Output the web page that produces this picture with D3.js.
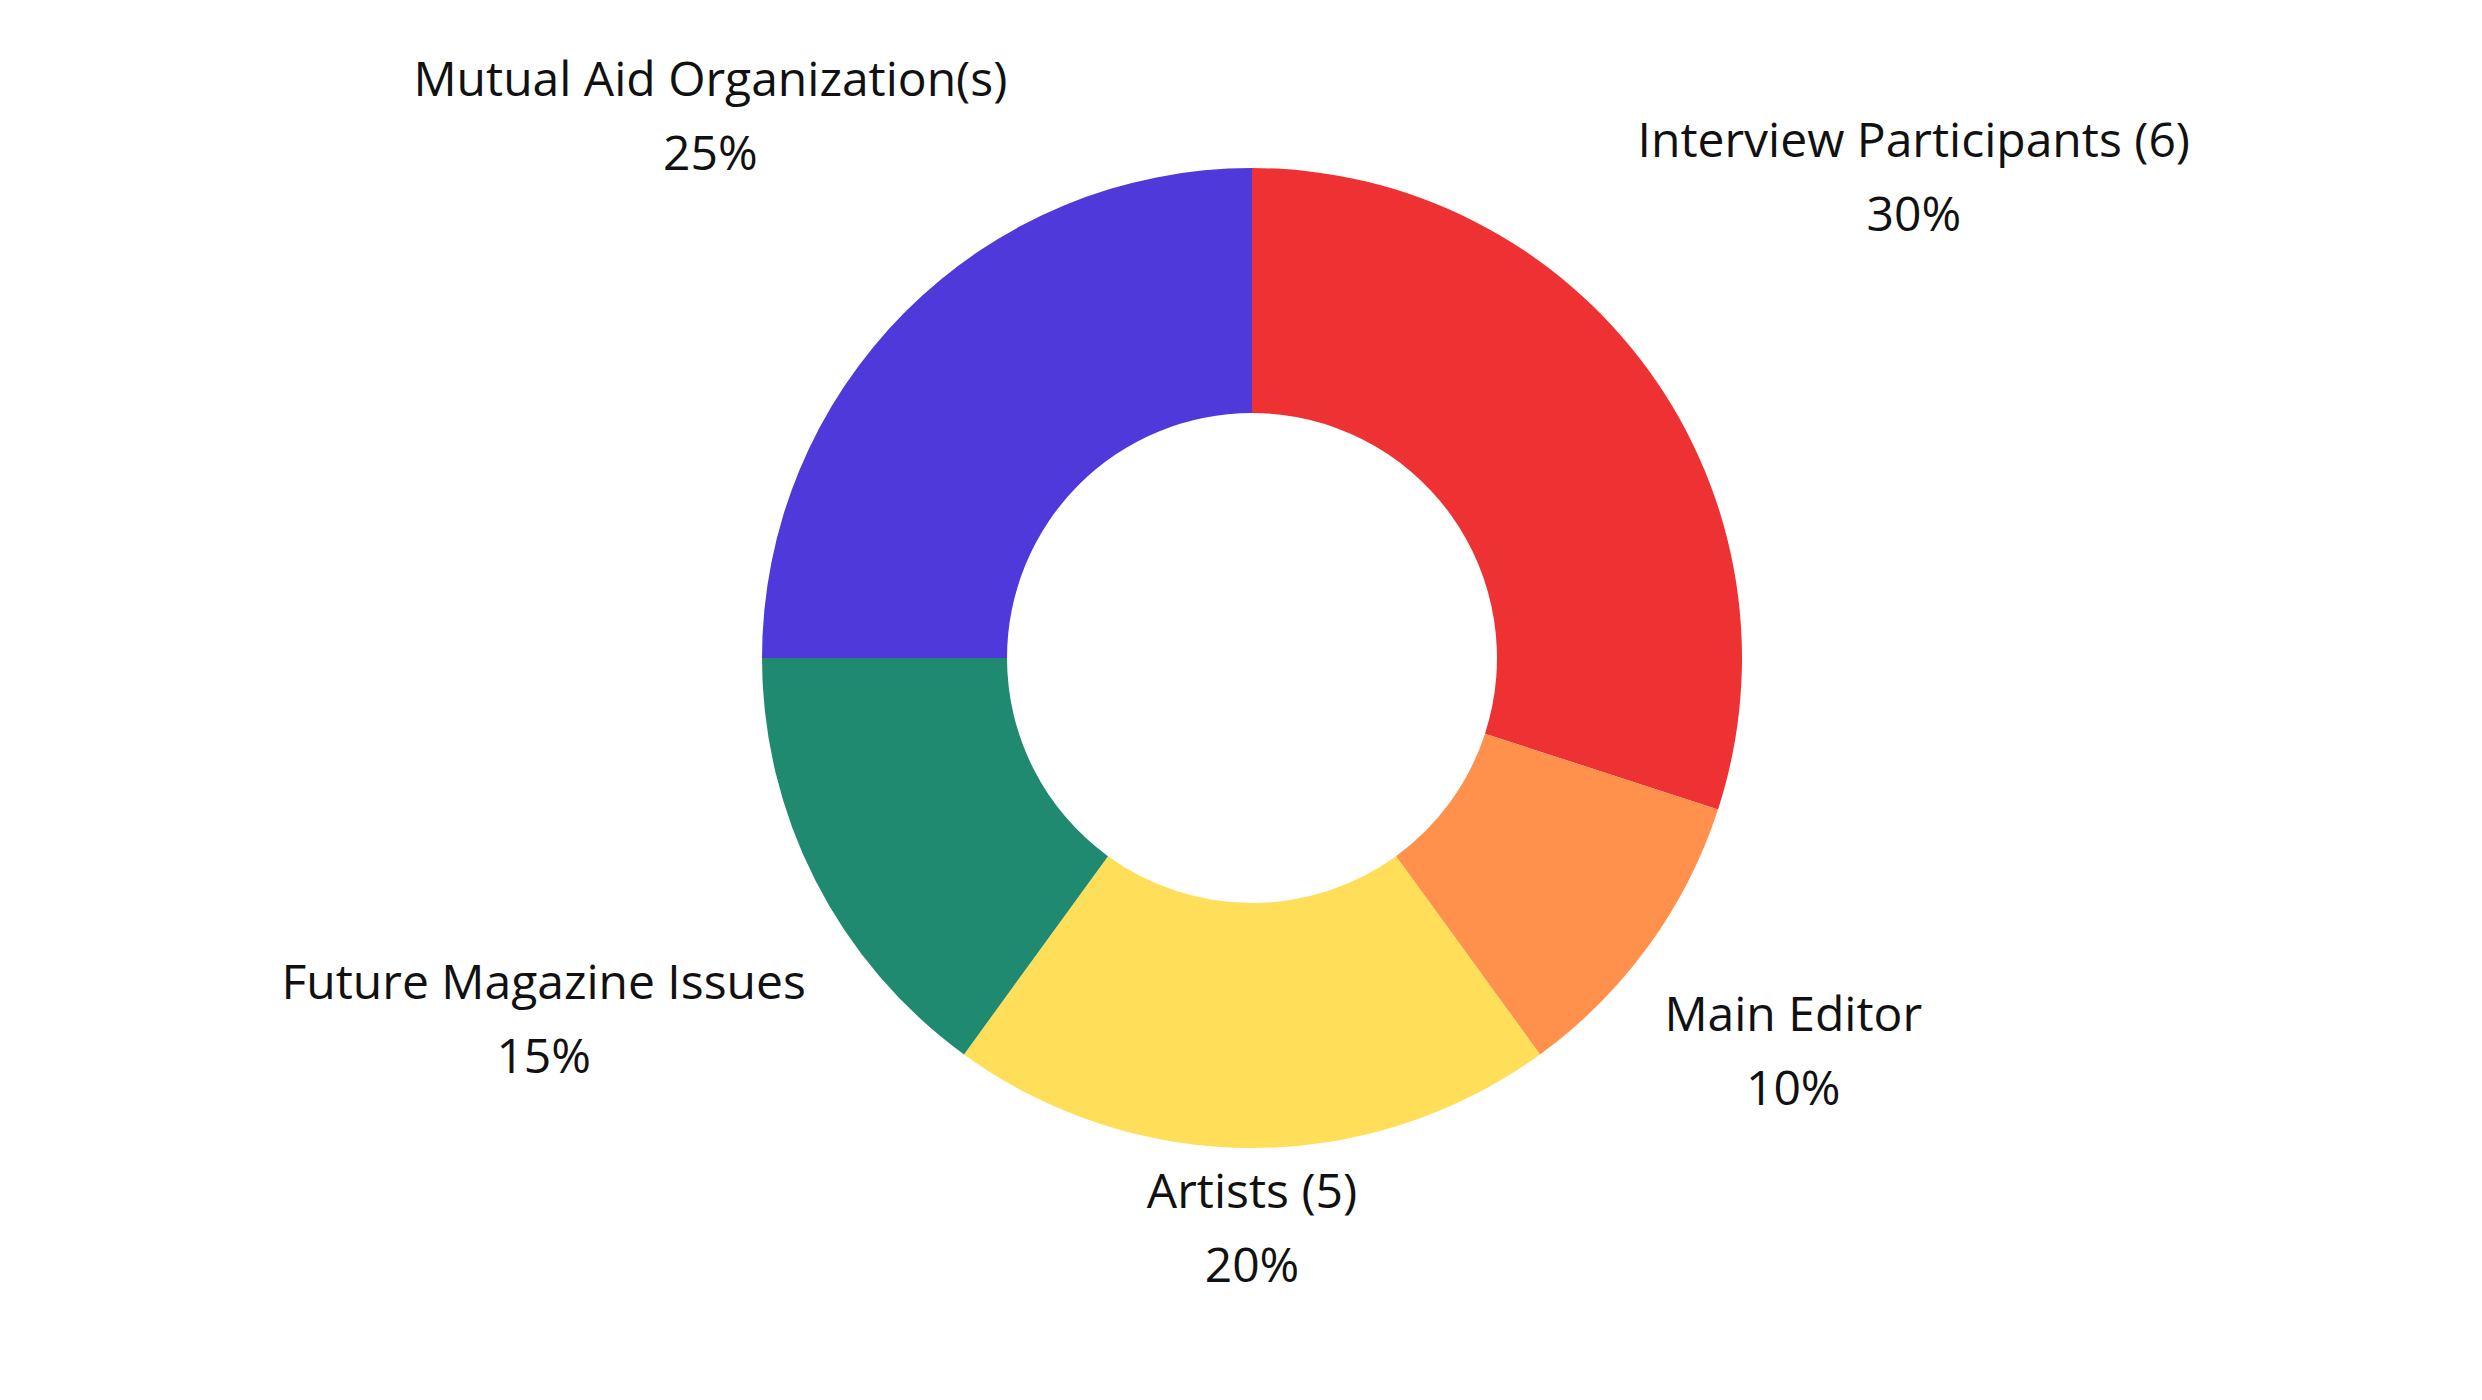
<!DOCTYPE html>
<html><head><meta charset="utf-8">
<script src="https://cdn.jsdelivr.net/npm/d3@7"></script>
<style>body{margin:0;background:#fff}text{font-family:"Open Sans","Noto Sans",sans-serif;fill:#111}</style>
</head><body><svg id="c" width="2482" height="1400"></svg>
<script>
const categories = ["Interview Participants (6)","Main Editor","Artists (5)","Future Magazine Issues","Mutual Aid Organization(s)"];
const values = [30,10,20,15,25];
const colors = ["#EE3233","#FF914D","#FFDE59","#1F8A70","#5039DB"];
// label distance from centre (layout only)
const labelDist = [818,669,570,795,766];

const W=2482,H=1400,cx=1252,cy=658,R=490,r=245;
const svg=d3.select("#c");
const g=svg.append("g").attr("transform",`translate(${cx},${cy})`);
const pie=d3.pie().sort(null).value(d=>d)(values);
const arc=d3.arc().innerRadius(r).outerRadius(R);
g.selectAll("path").data(pie).join("path").attr("d",arc).attr("fill",(d,i)=>colors[i]);
pie.forEach((d,i)=>{
  const a=(d.startAngle+d.endAngle)/2;
  const x=Math.sin(a)*labelDist[i], y=-Math.cos(a)*labelDist[i];
  const t=g.append("text").attr("text-anchor","middle").attr("font-size",48);
  t.append("tspan").attr("x",x).attr("y",y-20).text(categories[i]);
  t.append("tspan").attr("x",x).attr("y",y+54).text(values[i]+"%");
});
</script></body></html>
